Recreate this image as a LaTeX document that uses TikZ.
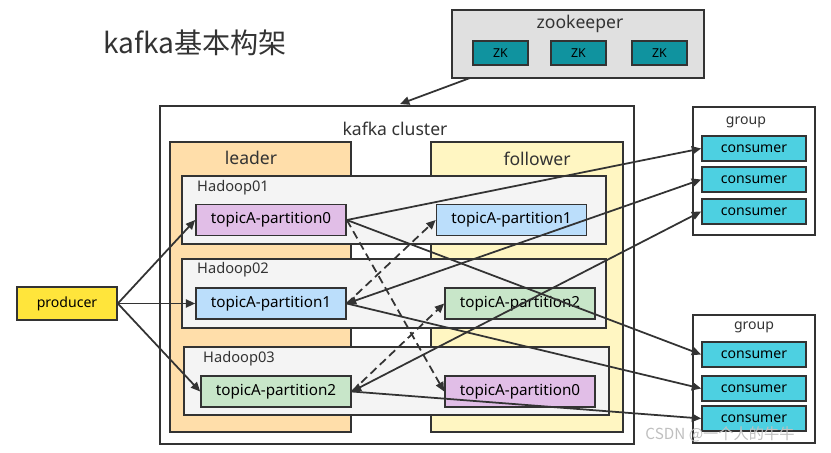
\documentclass[tikz,border=0pt]{standalone}
\usepackage{fontspec}
\setmainfont{Noto Sans}
\newfontfamily\cjk{Noto Sans CJK SC}
\usetikzlibrary{positioning,arrows.meta}
\definecolor{zkgray}{HTML}{E0E0E0}
\definecolor{zkteal}{HTML}{10939F}
\definecolor{leadbg}{HTML}{FFDEAA}
\definecolor{follbg}{HTML}{FFF6C2}
\definecolor{hostbg}{HTML}{F4F4F4}
\definecolor{ppurple}{HTML}{E1BEE7}
\definecolor{pblue}{HTML}{BBDEFB}
\definecolor{pgreen}{HTML}{C8E6C9}
\definecolor{prodyel}{HTML}{FFE53B}
\definecolor{consblue}{HTML}{4DD0E1}
\definecolor{linegray}{HTML}{333333}

\tikzset{
  box/.style={draw=linegray, line width=1.4pt, inner sep=0pt},
  part/.style={box, minimum width=4.5cm, minimum height=0.93cm, font=\fontsize{13}{15}\selectfont},
  cons/.style={box, fill=consblue, minimum width=3.12cm, minimum height=0.75cm, font=\fontsize{12}{14}\selectfont},
  zk/.style={box, fill=zkteal, minimum width=1.65cm, minimum height=0.72cm, font=\fontsize{10.5}{12}\selectfont},
  lbl/.style={font=\fontsize{12.5}{15}\selectfont, text=linegray},
  link/.style={draw=linegray, line width=1.5pt, -{Triangle[length=8pt,width=7pt]}},
  both/.style={link, {Triangle[length=8pt,width=7pt]}-{Triangle[length=8pt,width=7pt]}},
  copy/.style={link, dashed, dash pattern=on 7pt off 4pt},
}

\begin{document}
\begin{tikzpicture}[x=0.03cm, y=-0.03cm]
\useasboundingbox (0,0) rectangle (831,453);

% title
\node[font=\cjk\fontsize{24}{28}\selectfont, text=linegray] (title) at (195,43) {kafka基本构架};

% zookeeper
\node[box, fill=zkgray, minimum width=7.56cm, minimum height=2.04cm] (zoo) at (578,44) {};
\node[font=\fontsize{15}{17}\selectfont, text=linegray] (zootxt) at (580,24) {zookeeper};
\node[zk] (zk1) at (500.5,53) {ZK};
\node[zk] (zk2) at (578.5,53) {ZK};
\node[zk] (zk3) at (659.5,53) {ZK};

% cluster and columns
\node[box, fill=white, minimum width=14.22cm, minimum height=10.14cm] (cluster) at (397,275) {};
\node[font=\fontsize{15}{17}\selectfont, text=linegray] (clustertxt) at (395,129) {kafka cluster};
\node[box, fill=leadbg, minimum width=5.43cm, minimum height=8.7cm] (leader) at (260.5,287) {};
\node[box, fill=follbg, minimum width=5.76cm, minimum height=8.7cm] (follower) at (527,287) {};
\node[font=\fontsize{15}{17}\selectfont, text=linegray] (leadtxt) at (251,158) {leader};
\node[font=\fontsize{15}{17}\selectfont, text=linegray] (folltxt) at (537,159) {follower};

% brokers
\node[box, fill=hostbg, minimum width=12.72cm, minimum height=2.04cm] (h1) at (394,210) {};
\node[box, fill=hostbg, minimum width=12.72cm, minimum height=2.07cm] (h2) at (394,293.5) {};
\node[box, fill=hostbg, minimum width=12.75cm, minimum height=2.04cm] (h3) at (396.5,381) {};
\node[lbl] (h1txt) at (233,188) {Hadoop01};
\node[lbl] (h2txt) at (233,270) {Hadoop02};
\node[lbl] (h3txt) at (239,359) {Hadoop03};

% partitions
\node[part, fill=ppurple] (p0l) at (271,220) {topicA-partition0};
\node[part, fill=pblue] (p1f) at (511.5,220) {topicA-partition1};
\node[part, fill=pblue] (p1l) at (271,303.5) {topicA-partition1};
\node[part, fill=pgreen] (p2f) at (520,303.5) {topicA-partition2};
\node[part, fill=pgreen] (p2l) at (276,391.5) {topicA-partition2};
\node[part, fill=ppurple] (p0f) at (520,391.5) {topicA-partition0};

% producer
\node[box, fill=prodyel, minimum width=3cm, minimum height=0.99cm, font=\fontsize{12}{14}\selectfont] (prod) at (67,303.5) {producer};

% consumer groups
\node[box, fill=white, minimum width=3.66cm, minimum height=3.84cm] (g1) at (754,171) {};
\node[box, fill=white, minimum width=3.66cm, minimum height=3.84cm] (g2) at (754,379) {};
\node[lbl, font=\fontsize{12}{14}\selectfont] (g1txt) at (746,122) {group};
\node[lbl, font=\fontsize{12}{14}\selectfont] (g2txt) at (754,327) {group};
\node[cons] (c11) at (754,148.5) {consumer};
\node[cons] (c12) at (754,179.5) {consumer};
\node[cons] (c13) at (754,211.5) {consumer};
\node[cons] (c21) at (754,354.5) {consumer};
\node[cons] (c22) at (754,388.5) {consumer};
\node[cons] (c23) at (754,418.5) {consumer};

% connectors
\coordinate (zoofoot) at (470,78);
\coordinate (clustertop) at (400,104);
\draw[link] (zoofoot) -- (clustertop);
\draw[link] (prod.east) -- (p0l.west);
\draw[link] (prod.east) -- (p1l.west);
\draw[link] (prod.east) -- (p2l.west);
\draw[copy] (p0l.east) -- (p0f.west);
\draw[copy] (p1l.east) -- (p1f.west);
\draw[copy] (p2l.east) -- (p2f.west);
\draw[link] (p0l.east) -- (c11.west);
\draw[both] (p1l.east) -- (c12.west);
\draw[both] (p2l.east) -- (c13.west);
\draw[link] (p0l.east) -- (c21.west);
\draw[link] (p1l.east) -- (c22.west);
\draw[link] (p2l.east) -- (c23.west);

% watermark
\node[font=\cjk\fontsize{13}{15}\selectfont, text=black!25] (mark) at (720,434) {CSDN @一个人的牛牛};
\end{tikzpicture}
\end{document}
